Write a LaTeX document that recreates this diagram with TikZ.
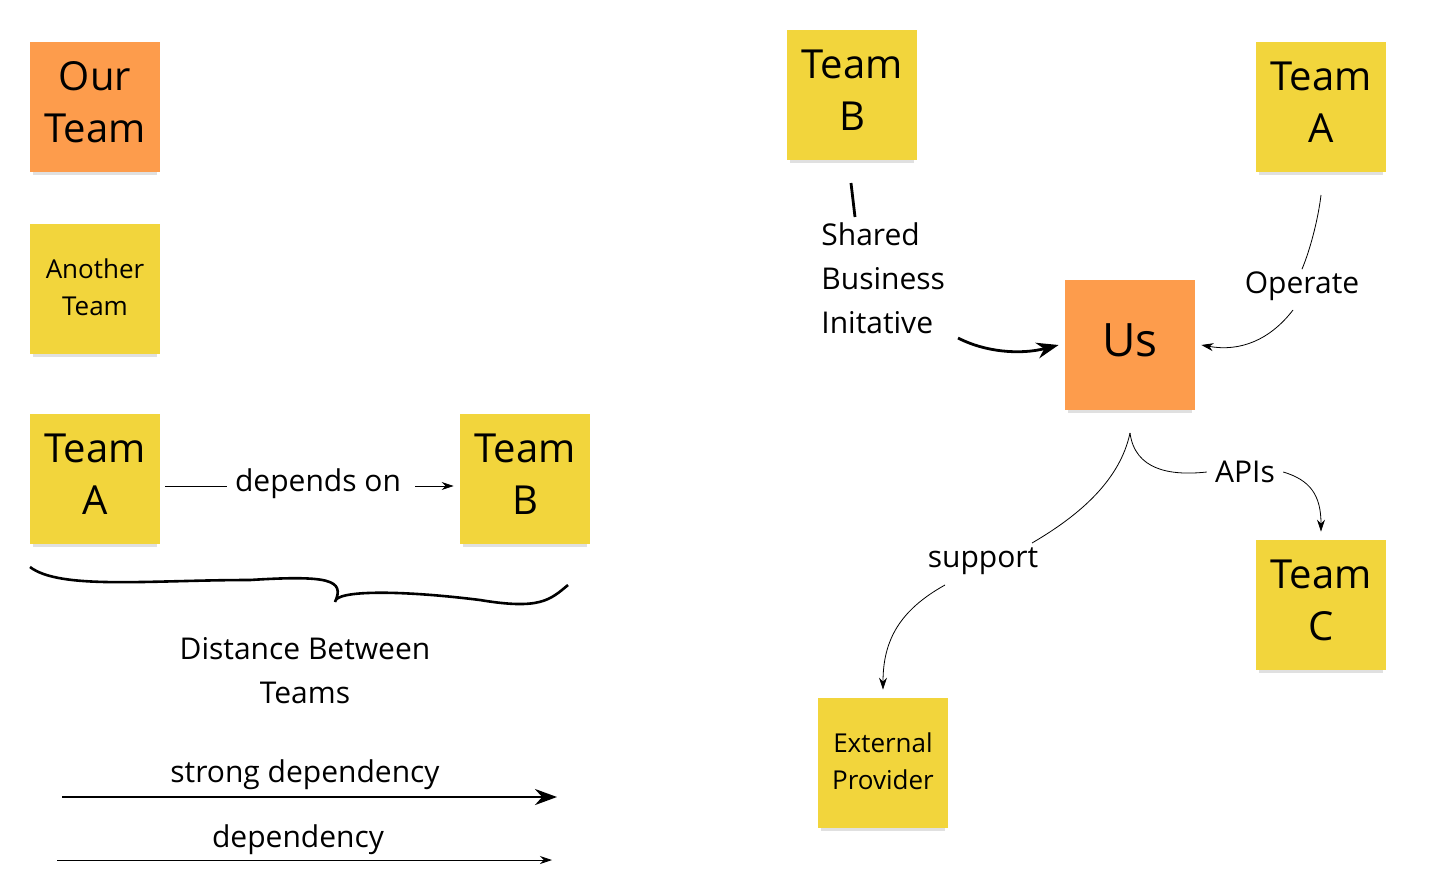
\documentclass[tikz,border=0pt]{standalone}
\usepackage{fontspec}
\setmainfont{Open Sans}
\usetikzlibrary{shadows,arrows.meta}
\definecolor{stickyyellow}{HTML}{F2D53C}
\definecolor{stickyorange}{HTML}{FD9C4C}
\tikzset{
  sticky/.style={fill=stickyyellow, minimum width=65pt, minimum height=65pt, align=center,
    inner sep=1pt, font=\fontsize{20}{26}\selectfont, text depth=5pt,
    drop shadow={shadow xshift=0pt, shadow yshift=-3pt, shadow scale=.96, opacity=.12, fill=black}},
  orange/.style={sticky, fill=stickyorange},
  small/.style={font=\fontsize{13}{18.5}\selectfont, text depth=2pt},
  lbl/.style={font=\fontsize{15}{22}\selectfont, inner sep=1pt},
  dep/.style={-{Stealth[length=6pt,width=4pt]}, thin},
  strong/.style={-{Stealth[length=11pt,width=8pt]}, line width=1.4pt},
}
\begin{document}
\begin{tikzpicture}[x=0.5pt,y=-0.5pt]
\useasboundingbox (0,0) rectangle (1456,895);
% legend side
\node[orange] (our) at (95,107) {Our\\Team};
\node[sticky,small] (another) at (95,289) {Another\\Team};
\node[sticky] (la) at (95,479) {Team\\A};
\node[sticky] (lb) at (525,479) {Team\\B};
\node[lbl] (depends) at (318,484) {depends on};
\draw[thin] (la.east) ++(5,7) coordinate (d1) -- ([xshift=-3pt]depends.west |- d1);
\draw[dep] ([xshift=6pt]depends.east |- d1) -- ([xshift=-3pt]lb.west |- d1);
\coordinate (br1) at (30,567);
\coordinate (br2) at (568,585);
\draw[line width=1.3pt] (br1) .. controls (60,590) and (150,580) .. (250,580)
  .. controls (330,575) and (345,580) .. (335,602)
  .. controls (335,590) and (400,590) .. (480,600)
  .. controls (540,610) and (550,600) .. (br2);
\node[lbl, align=center] (dist) at (305,671) {Distance Between\\Teams};
\node[lbl] (strongtxt) at (305,775) {strong dependency};
\coordinate (s1) at (62,797);
\coordinate (s2) at (557,797);
\draw[strong] (s1) -- (s2);
\node[lbl] (deptxt) at (298,840) {dependency};
\coordinate (t1) at (57,860);
\coordinate (t2) at (552,860);
\draw[dep] (t1) -- (t2);
% map side
\node[sticky] (rb) at (852,95) {Team\\B};
\node[sticky] (ra) at (1321,107) {Team\\A};
\node[orange, font=\fontsize{23}{25}\selectfont] (us) at (1130,345) {Us};
\node[sticky] (rc) at (1321,605) {Team\\C};
\node[sticky,small] (ext) at (883,763) {External\\Provider};
\node[lbl, align=left, anchor=north west] (shared) at (819,220) {Shared\\Business\\Initative};
\coordinate (sb1) at (851,183);
\coordinate (sb2) at (855,217);
\draw[line width=1.4pt] (sb1) -- (sb2);
\coordinate (sb3) at (958,338);
\draw[strong] (sb3) .. controls (985,352) and (1020,355) .. ([xshift=-3pt]us.west);
\node[lbl] (operate) at (1302,286) {Operate};
\coordinate (op1) at (1321,195);
\draw[thin] (op1) .. controls (1318,220) and (1310,250) .. (operate.north);
\coordinate (op2) at (1293,310);
\draw[dep] (op2) .. controls (1270,340) and (1240,352) .. ([xshift=3pt]us.east);
\coordinate (hub) at (1130,433);
\node[lbl] (apis) at (1245,472) {APIs};
\draw[thin] (hub) .. controls (1135,470) and (1170,476) .. ([xshift=-3pt]apis.west);
\draw[dep] ([xshift=3pt]apis.east) .. controls (1310,480) and (1321,495) .. ([yshift=4pt]rc.north);
\node[lbl] (support) at (983,561) {support};
\draw[thin] (hub) .. controls (1120,480) and (1080,515) .. (1032,543);
\coordinate (sp1) at (945,585);
\draw[dep] (sp1) .. controls (900,610) and (883,640) .. ([yshift=4pt]ext.north);
\end{tikzpicture}
\end{document}
